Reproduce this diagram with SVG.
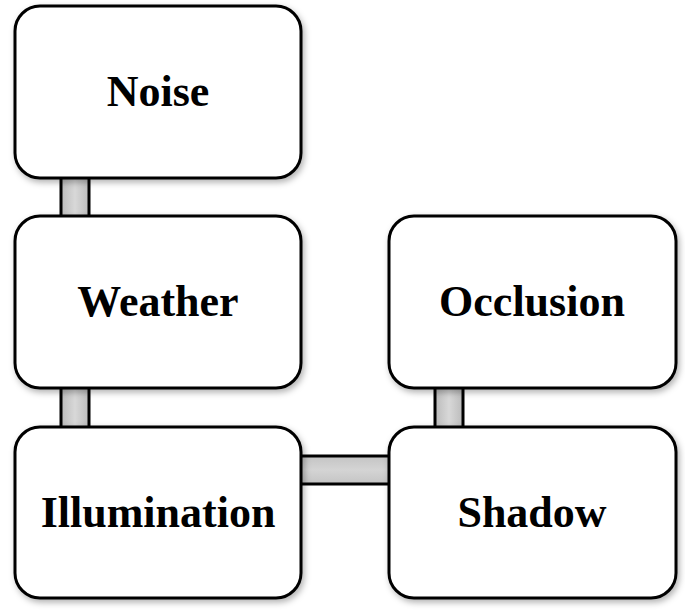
<svg xmlns="http://www.w3.org/2000/svg" width="685" height="615" viewBox="0 0 685 615">
<defs>
<linearGradient id="gv" x1="0" y1="0" x2="1" y2="0"><stop offset="0" stop-color="#bbb"/><stop offset="0.5" stop-color="#d8d8d8"/><stop offset="1" stop-color="#bbb"/></linearGradient>
<linearGradient id="gh" x1="0" y1="0" x2="0" y2="1"><stop offset="0" stop-color="#c4c4c4"/><stop offset="0.5" stop-color="#d4d4d4"/><stop offset="1" stop-color="#c4c4c4"/></linearGradient>
<filter id="sh" x="-10%" y="-10%" width="125%" height="125%"><feDropShadow dx="2" dy="3" stdDeviation="3" flood-opacity="0.3"/></filter>
</defs>
<style>
.box{fill:#fff;stroke:#000;stroke-width:3;filter:url(#sh)}
.lbl{font-family:"Liberation Serif",serif;font-weight:bold;font-size:44px;text-anchor:middle;fill:#000}
.con{stroke:#000;stroke-width:3}
</style>
<g id="connectors">
<rect class="con" x="61" y="177" width="28" height="40" fill="url(#gv)"/>
<rect class="con" x="61" y="387" width="28" height="41" fill="url(#gv)"/>
<rect class="con" x="435" y="387" width="28" height="41" fill="url(#gv)"/>
<rect class="con" x="300" y="456" width="90" height="28" fill="url(#gh)"/>
</g>
<g id="noise"><rect class="box" x="15" y="6" width="286" height="172" rx="25"/><text class="lbl" x="158" y="106">Noise</text></g>
<g id="weather"><rect class="box" x="15" y="216" width="286" height="172" rx="25"/><text class="lbl" x="158" y="316">Weather</text></g>
<g id="illumination"><rect class="box" x="15" y="427" width="286" height="171" rx="25"/><text class="lbl" x="158" y="527">Illumination</text></g>
<g id="occlusion"><rect class="box" x="389" y="216" width="287" height="172" rx="25"/><text class="lbl" x="532" y="316">Occlusion</text></g>
<g id="shadow"><rect class="box" x="389" y="427" width="287" height="171" rx="25"/><text class="lbl" x="532" y="527">Shadow</text></g>
</svg>
